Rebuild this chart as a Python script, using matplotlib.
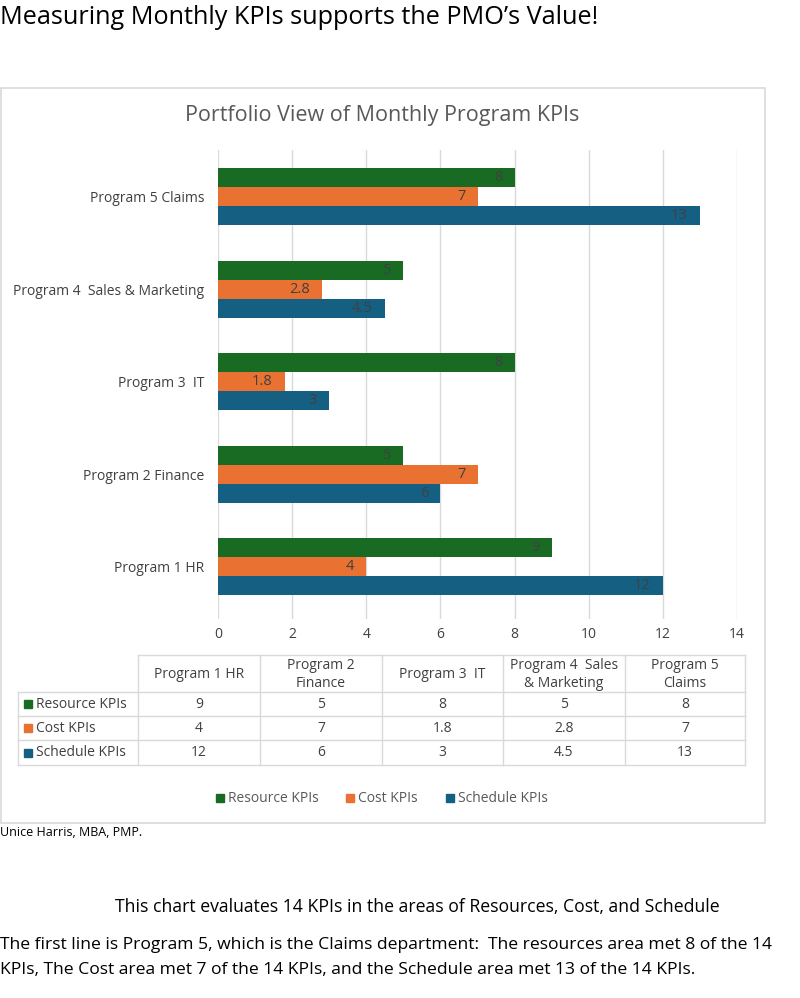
import matplotlib
matplotlib.use("Agg")
import matplotlib.pyplot as plt
from matplotlib.patches import Rectangle
import numpy as np

plt.rcParams['font.family'] = ['Open Sans', 'DejaVu Sans']

programs = ["Program 1 HR", "Program 2 Finance", "Program 3  IT",
            "Program 4  Sales & Marketing", "Program 5 Claims"]
table_headers = ["Program 1 HR", "Program 2\nFinance", "Program 3  IT",
                 "Program 4  Sales\n& Marketing", "Program 5\nClaims"]
series_names = ["Resource KPIs", "Cost KPIs", "Schedule KPIs"]
resource = [9, 5, 8, 5, 8]
cost = [4, 7, 1.8, 2.8, 7]
schedule = [12, 6, 3, 4.5, 13]
colors = ["#196B24", "#E97132", "#156082"]
xticks = [0, 2, 4, 6, 8, 10, 12, 14]

W, H = 800, 998
fig = plt.figure(figsize=(W / 100, H / 100), dpi=100)

def fx(x):
    return x / W

def fy(y):
    return 1 - y / H

# Page texts
fig.text(fx(0), fy(18), "Measuring Monthly KPIs supports the PMO\u2019s Value!",
         fontsize=18.2, color="black", va="center", ha="left")
fig.text(fx(0), fy(832), "Unice Harris, MBA, PMP.", fontsize=9, color="black",
         va="center", ha="left")
fig.text(fx(417), fy(907),
         "This chart evaluates 14 KPIs in the areas of Resources, Cost, and Schedule",
         fontsize=12.7, color="black", va="center", ha="center")
fig.text(fx(0), fy(945),
         "The first line is Program 5, which is the Claims department:  The resources area met 8 of the 14",
         fontsize=12.6, color="black", va="center", ha="left")
fig.text(fx(0), fy(970),
         "KPIs, The Cost area met 7 of the 14 KPIs, and the Schedule area met 13 of the 14 KPIs.",
         fontsize=12.6, color="black", va="center", ha="left")

# Chart border
fig.patches.append(Rectangle((fx(1), fy(823)), fx(764), (823 - 88) / H,
                             transform=fig.transFigure, fill=False,
                             edgecolor="#D9D9D9", linewidth=1.2))
fig.text(fx(382), fy(116), "Portfolio View of Monthly Program KPIs",
         fontsize=15.5, color="#595959", va="center", ha="center")

# Bar axes
ax = fig.add_axes([fx(218), fy(619), (737 - 218) / W, (619 - 150) / H])
y = np.arange(len(programs))
h = 0.205
for vals, off, col in zip([resource, cost, schedule], [h, 0, -h], colors):
    bars = ax.barh(y + off, vals, height=h, color=col, zorder=3)
    for b, v in zip(bars, vals):
        ax.text(v - 0.33, b.get_y() + h / 2, f"{v:g}", ha="right", va="center",
                fontsize=10.5, color="#404040", zorder=4)
ax.set_xlim(0, 14)
ax.set_ylim(-0.565, 4.505)
ax.set_xticks(xticks)
ax.set_xticklabels([str(t) for t in xticks])
ax.set_yticks(y)
ax.set_yticklabels(programs)
ax.tick_params(axis="both", length=0, labelsize=10, colors="#404040")
ax.tick_params(axis="y", pad=10)
ax.tick_params(axis="x", pad=6)
ax.grid(axis="x", color="#D9D9D9", linewidth=1, zorder=0)
for s in ax.spines.values():
    s.set_visible(False)

# Data table (drawn in pixel coordinates)
tab = fig.add_axes([0, 0, 1, 1], zorder=-1)
tab.set_xlim(0, W)
tab.set_ylim(H, 0)
tab.axis("off")
col_edges = [138, 260, 382, 503, 625, 745]
row_edges = [655, 692, 716, 740, 765]
lc = "#D9D9D9"
tab.plot([col_edges[0], col_edges[-1]], [row_edges[0]] * 2, color=lc, lw=1)
for r in row_edges[1:]:
    tab.plot([18, col_edges[-1]], [r, r], color=lc, lw=1)
tab.plot([18, 18], [row_edges[1], row_edges[-1]], color=lc, lw=1)
for c in col_edges:
    tab.plot([c, c], [row_edges[0], row_edges[-1]], color=lc, lw=1)
for i, hd in enumerate(table_headers):
    cx = (col_edges[i] + col_edges[i + 1]) / 2
    tab.text(cx, (row_edges[0] + row_edges[1]) / 2 + 1, hd, ha="center", va="center",
             fontsize=10, color="#404040", linespacing=1.25)
for j, (name, vals, col) in enumerate(zip(series_names, [resource, cost, schedule], colors)):
    cy = (row_edges[j + 1] + row_edges[j + 2]) / 2
    tab.add_patch(Rectangle((24, cy - 4), 8, 8, color=col))
    tab.text(36, cy, name, ha="left", va="center", fontsize=10, color="#404040")
    for i, v in enumerate(vals):
        cx = (col_edges[i] + col_edges[i + 1]) / 2
        tab.text(cx, cy, f"{v:g}", ha="center", va="center", fontsize=10, color="#404040")

# Legend
leg_x = [216, 346, 446]
for name, col, lx in zip(series_names, colors, leg_x):
    tab.add_patch(Rectangle((lx, 794), 8, 8, color=col))
    tab.text(lx + 12, 798, name, ha="left", va="center", fontsize=10, color="#595959")

fig.savefig("out.png", dpi=100)
